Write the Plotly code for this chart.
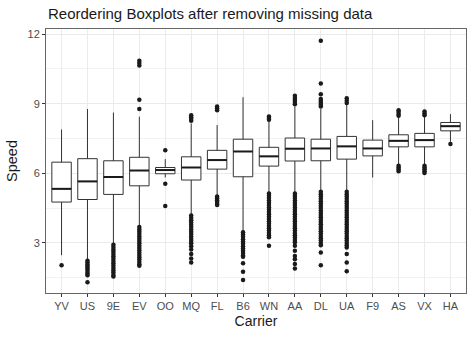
import plotly.graph_objects as go

carriers = ["YV", "US", "9E", "EV", "OO", "MQ", "FL", "B6", "WN", "AA", "DL", "UA", "F9", "AS", "VX", "HA"]
lower_whisker = [2.47, 2.26, 2.95, 3.70, 5.82, 4.24, 5.02, 3.48, 5.15, 5.15, 5.22, 5.22, 5.82, 6.35, 6.35, 7.36]
q1 = [4.76, 4.87, 5.09, 5.46, 5.98, 5.71, 6.18, 5.85, 6.31, 6.53, 6.54, 6.61, 6.75, 7.14, 7.14, 7.83]
median = [5.33, 5.65, 5.84, 6.12, 6.14, 6.25, 6.57, 6.94, 6.73, 7.06, 7.07, 7.16, 7.07, 7.40, 7.43, 8.03]
q3 = [6.48, 6.63, 6.54, 6.69, 6.25, 6.71, 6.99, 7.47, 7.12, 7.52, 7.47, 7.59, 7.43, 7.66, 7.72, 8.19]
upper_whisker = [7.89, 8.77, 8.62, 8.44, 6.61, 8.15, 8.08, 9.28, 8.22, 8.88, 8.77, 8.98, 8.29, 8.44, 8.46, 8.55]

out_YV = [2.04]
out_US = [2.23, 2.15, 2.07, 1.99, 1.91, 1.83, 1.75, 1.67, 1.60, 1.30]
out_9E = [2.92, 2.82, 2.72, 2.62, 2.52, 2.42, 2.32, 2.22, 2.12, 2.02, 1.92, 1.82, 1.72, 1.62, 1.55]
out_EV = [10.85, 10.75, 10.65, 9.17, 8.77, 3.68, 3.58, 3.48, 3.38, 3.28, 3.18, 3.08, 2.98, 2.88,
          2.78, 2.68, 2.58, 2.48, 2.38, 2.28, 2.18, 2.08, 2.02]
out_OO = [6.99, 5.55, 4.59]
out_MQ = [8.50, 8.42, 8.34, 8.26, 4.18, 4.08, 3.98, 3.88, 3.78, 3.68, 3.58, 3.48, 3.38, 3.28,
          3.18, 3.08, 2.98, 2.85, 2.72, 2.52, 2.33, 2.16]
out_FL = [8.88, 8.80, 8.72, 5.00, 4.92, 4.84, 4.76, 4.68, 4.63]
out_B6 = [3.46, 3.36, 3.26, 3.16, 3.06, 2.96, 2.86, 2.76, 2.66, 2.56, 2.46, 2.40, 2.12, 1.76, 1.40]
out_WN = [8.45, 8.38, 8.31, 5.13, 5.03, 4.93, 4.83, 4.73, 4.63, 4.53, 4.43, 4.33, 4.23, 4.13,
          4.03, 3.93, 3.83, 3.73, 3.63, 3.53, 3.43, 3.33, 3.24, 2.88]
out_AA = [9.34, 9.25, 9.16, 9.07, 8.98, 5.13, 5.03, 4.93, 4.83, 4.73, 4.63, 4.53, 4.43, 4.33,
          4.23, 4.13, 4.03, 3.93, 3.83, 3.73, 3.63, 3.53, 3.43, 3.33, 3.23, 3.13, 3.03,
          2.88, 2.66, 2.44, 2.30, 2.09, 1.90]
out_DL = [11.71, 9.87, 9.41, 9.20, 9.12, 9.04, 8.96, 8.88, 5.20, 5.10, 5.00, 4.90, 4.80, 4.70,
          4.60, 4.50, 4.40, 4.30, 4.20, 4.10, 4.00, 3.90, 3.80, 3.70, 3.60, 3.50, 3.40, 3.30,
          3.20, 3.10, 3.00, 2.90, 2.59, 2.04]
out_UA = [9.23, 9.13, 9.03, 5.20, 5.10, 5.00, 4.90, 4.80, 4.70, 4.60, 4.50, 4.40, 4.30, 4.20,
          4.10, 4.00, 3.90, 3.80, 3.70, 3.60, 3.50, 3.40, 3.30, 3.20, 3.10, 3.00, 2.90, 2.80,
          2.52, 2.16, 1.78]
out_F9 = []
out_AS = [8.72, 8.64, 8.56, 8.48, 6.33, 6.25, 6.17, 6.09]
out_VX = [8.66, 8.58, 8.50, 6.33, 6.25, 6.17, 6.09, 6.01]
out_HA = [7.26]

outliers = [out_YV, out_US, out_9E, out_EV, out_OO, out_MQ, out_FL, out_B6,
            out_WN, out_AA, out_DL, out_UA, out_F9, out_AS, out_VX, out_HA]

y_ticks = [3, 6, 9, 12]
title_text = "Reordering Boxplots after removing missing data"

BOX_W = 0.75
pos = list(range(len(carriers)))

fig = go.Figure()

fig.add_trace(go.Box(
    x=pos, q1=q1, median=median, q3=q3,
    lowerfence=lower_whisker, upperfence=upper_whisker,
    width=BOX_W, whiskerwidth=0, boxpoints=False,
    fillcolor="white", line=dict(color="#333333", width=1),
    showlegend=False, hoverinfo="skip",
))

mx, my = [], []
for i, m in enumerate(median):
    mx += [i - BOX_W / 2, i + BOX_W / 2, None]
    my += [m, m, None]
fig.add_trace(go.Scatter(x=mx, y=my, mode="lines",
                         line=dict(color="#1a1a1a", width=2),
                         showlegend=False, hoverinfo="skip"))

ox, oy = [], []
for i, vals in enumerate(outliers):
    ox += [i] * len(vals)
    oy += vals
fig.add_trace(go.Scatter(x=ox, y=oy, mode="markers",
                         marker=dict(color="#1a1a1a", size=4.5, line=dict(width=0)),
                         showlegend=False, hoverinfo="skip"))

font = "Liberation Sans, Arial, sans-serif"
fig.update_layout(
    width=474, height=338,
    margin=dict(l=46, r=8, t=29, b=45),
    paper_bgcolor="white", plot_bgcolor="white",
    font=dict(family=font, color="#1a1a1a"),
    annotations=[dict(text=title_text, xref="paper", x=0, xanchor="left",
                      yref="paper", y=1 + 16 / 264, yanchor="middle",
                      showarrow=False, font=dict(size=15, color="#1a1a1a"))],
    xaxis=dict(
        range=[-0.6, len(carriers) - 0.4],
        tickvals=pos, ticktext=carriers,
        showgrid=True, gridcolor="#EBEBEB", gridwidth=1,
        ticks="outside", ticklen=3, tickcolor="#333333", tickwidth=1,
        tickfont=dict(size=11, color="#4D4D4D"),
        showline=True, mirror=True, linecolor="#666666", linewidth=1,
        zeroline=False,
        title=dict(text="Carrier", font=dict(size=14, color="#1a1a1a"), standoff=4),
    ),
    yaxis=dict(
        range=[0.84, 12.22],
        tickvals=y_ticks,
        showgrid=True, gridcolor="#EBEBEB", gridwidth=1,
        minor=dict(tick0=0, dtick=1.5, showgrid=True, gridcolor="#F2F2F2", gridwidth=0.6, ticks=""),
        ticks="outside", ticklen=3, tickcolor="#333333", tickwidth=1,
        tickfont=dict(size=11, color="#4D4D4D"),
        showline=True, mirror=True, linecolor="#666666", linewidth=1,
        zeroline=False,
        title=dict(text="Speed", font=dict(size=14.5, color="#1a1a1a"), standoff=6),
    ),
)

fig.write_html("out.html")
